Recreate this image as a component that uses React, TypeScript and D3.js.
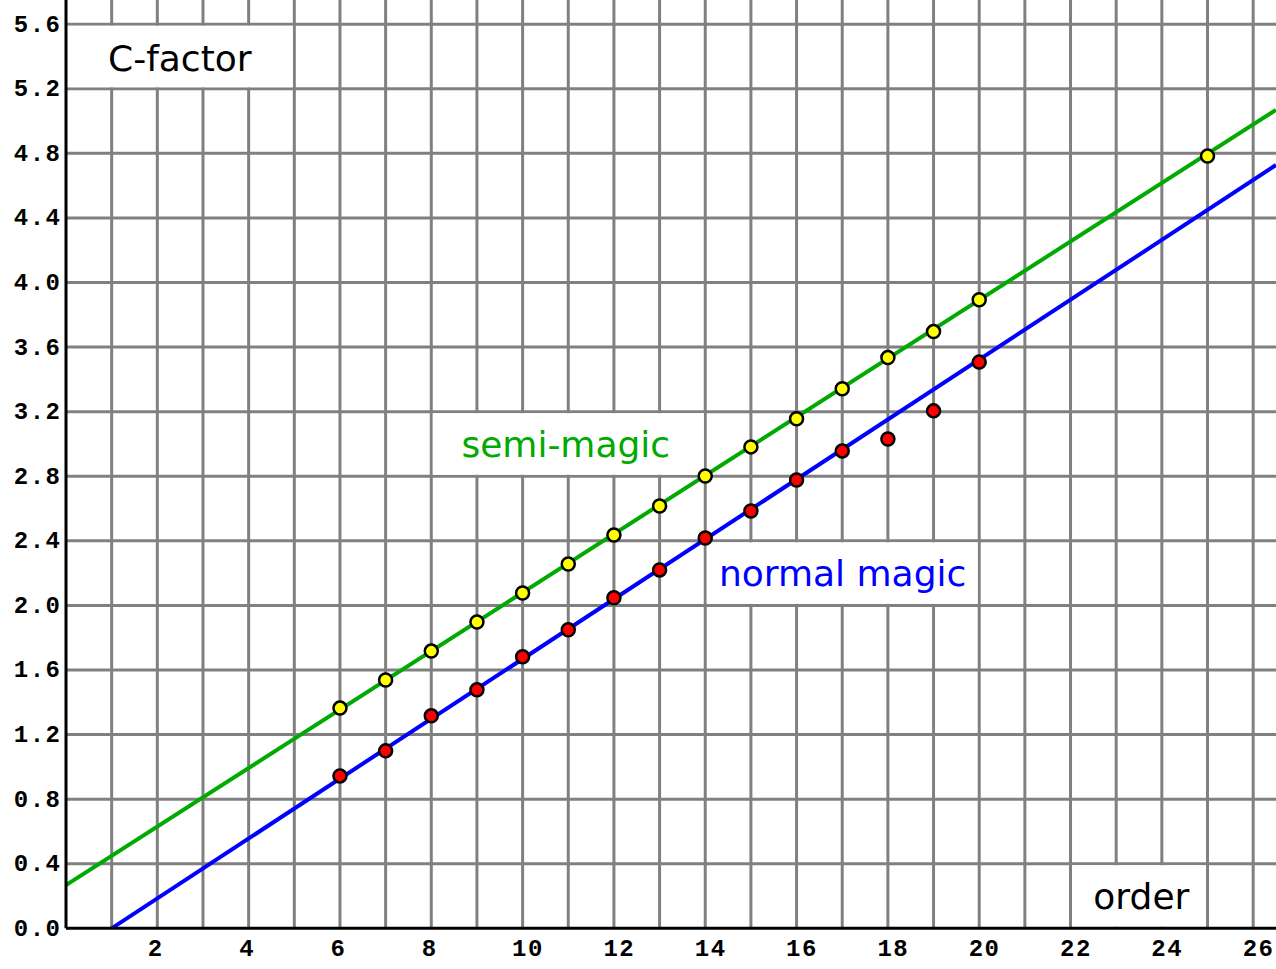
import React from 'react';
import * as d3 from 'd3';

// values
const orders = [6, 7, 8, 9, 10, 11, 12, 13, 14, 15, 16, 17, 18, 19, 20, 25];
const semiMagic = [1.364, 1.538, 1.717, 1.897, 2.077, 2.256, 2.436, 2.616, 2.802, 2.982, 3.156, 3.342, 3.535, 3.696, 3.893, 4.783];
const normalOrders = [6, 7, 8, 9, 10, 11, 12, 13, 14, 15, 16, 17, 18, 19, 20];
const normalMagic = [0.944, 1.099, 1.316, 1.477, 1.682, 1.849, 2.047, 2.22, 2.418, 2.585, 2.777, 2.957, 3.031, 3.205, 3.507];

// fitted straight lines (slope, intercept)
const semiFit = { slope: 0.1812, intercept: 0.268 };
const normalFit = { slope: 0.1854, intercept: -0.1854 };

const xTicks = [2, 4, 6, 8, 10, 12, 14, 16, 18, 20, 22, 24, 26];
const yTicks = [0, 0.4, 0.8, 1.2, 1.6, 2.0, 2.4, 2.8, 3.2, 3.6, 4.0, 4.4, 4.8, 5.2, 5.6];
const xGrid = d3.range(1, 27);

// label boxes: [x0, x1, y0, y1] in data units
const labels = [
  { text: 'C-factor', color: '#000', box: [0, 5, 5.2, 5.6], at: [0.92, 5.31] },
  { text: 'semi-magic', color: '#00aa00', box: [8, 14, 2.8, 3.2], at: [8.66, 2.92] },
  { text: 'normal magic', color: '#0000ff', box: [14, 20, 2.0, 2.4], at: [14.3, 2.12] },
  { text: 'order', color: '#000', box: [22, 25, 0, 0.4], at: [22.5, 0.12] },
];

const W = 1276;
const H = 969;

export default function App() {
  const x = d3.scaleLinear().domain([0, 26.5]).range([66, 1276]);
  const y = d3.scaleLinear().domain([0, 5.75]).range([928.3, 0]);

  const fitLine = (f: { slope: number; intercept: number }) => {
    const x0 = Math.max(0, -f.intercept / f.slope);
    const pts: [number, number][] = [x0, 26.5].map(v => [v, f.slope * v + f.intercept]);
    return d3.line<[number, number]>().x(d => x(d[0])).y(d => y(d[1]))(pts) || '';
  };

  const tickFont = { fontFamily: '"Liberation Mono", "Courier New", monospace', fontWeight: 700, fontSize: 24, letterSpacing: 1.5 };

  return (
    <svg width={W} height={H} style={{ position: 'absolute', left: 0, top: 0, background: '#fff' }}>
      <defs>
        <clipPath id="plot">
          <rect x={x(0)} y={0} width={W - x(0)} height={y(0)} />
        </clipPath>
      </defs>
      <rect x={0} y={0} width={W} height={H} fill="#fff" />

      {/* grid */}
      <g stroke="#808080" strokeWidth={3}>
        {xGrid.map(v => (
          <line key={'gx' + v} x1={x(v)} x2={x(v)} y1={0} y2={y(0)} />
        ))}
        {yTicks.slice(1).map(v => (
          <line key={'gy' + v} x1={x(0)} x2={W} y1={y(v)} y2={y(v)} />
        ))}
      </g>

      {/* white label boxes */}
      {labels.map(l => (
        <rect
          key={'b' + l.text}
          x={x(l.box[0]) + 1.5}
          y={y(l.box[3]) + 1.5}
          width={x(l.box[1]) - x(l.box[0]) - 3}
          height={y(l.box[2]) - y(l.box[3]) - 3}
          fill="#fff"
        />
      ))}

      {/* fitted lines */}
      <g clipPath="url(#plot)" fill="none" strokeWidth={4}>
        <path d={fitLine(semiFit)} stroke="#00aa00" />
        <path d={fitLine(normalFit)} stroke="#0000ff" />
      </g>

      {/* points */}
      <g stroke="#000" strokeWidth={2.5}>
        {normalOrders.map((o, i) => (
          <circle key={'n' + o} cx={x(o)} cy={y(normalMagic[i])} r={6.5} fill="#ff0000" />
        ))}
        {orders.map((o, i) => (
          <circle key={'s' + o} cx={x(o)} cy={y(semiMagic[i])} r={6.5} fill="#ffff00" />
        ))}
      </g>

      {/* axes */}
      <line x1={x(0)} x2={W} y1={y(0)} y2={y(0)} stroke="#000" strokeWidth={3} />
      <line x1={x(0)} x2={x(0)} y1={0} y2={y(0)} stroke="#000" strokeWidth={3} />

      {yTicks.map(v => (
        <text key={'ty' + v} x={61.5} y={y(v) + 7.5} textAnchor="end" fill="#000" style={tickFont}>
          {d3.format('.1f')(v)}
        </text>
      ))}
      {xTicks.map(v => (
        <text
          key={'tx' + v}
          x={v < 10 ? x(v) - 1.5 : x(v) - 10.5}
          y={955.5}
          textAnchor={v < 10 ? 'middle' : 'start'}
          fill="#000"
          style={tickFont}
        >
          {v}
        </text>
      ))}

      {/* labels */}
      {labels.map(l => (
        <text
          key={'t' + l.text}
          x={x(l.at[0])}
          y={y(l.at[1])}
          fill={l.color}
          style={{ fontFamily: '"DejaVu Sans", Verdana, sans-serif', fontSize: 36 }}
        >
          {l.text}
        </text>
      ))}
    </svg>
  );
}
